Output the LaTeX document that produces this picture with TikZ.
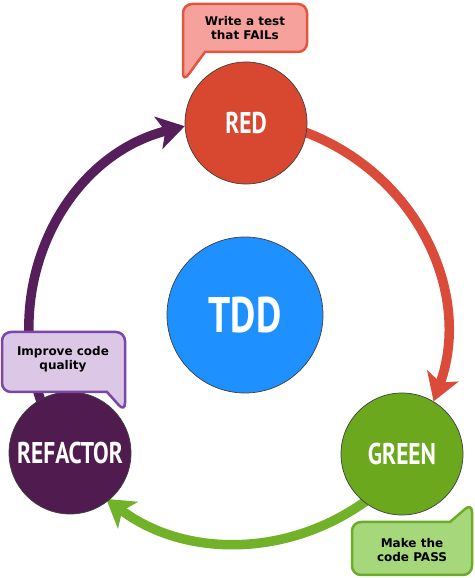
\documentclass[tikz,border=0pt]{standalone}
\usepackage{fontspec}
\usetikzlibrary{arrows.meta,backgrounds}

\newfontfamily\stagefont{PT Sans}[FakeStretch=0.78]
\newfontfamily\notefont{DejaVu Sans}

\definecolor{redstage}{HTML}{D8472F}
\definecolor{greenstage}{HTML}{6BA81E}
\definecolor{purplestage}{HTML}{501C50}
\definecolor{bluestage}{HTML}{1E90FF}
\definecolor{redarrow}{HTML}{DA4B39}
\definecolor{greenarrow}{HTML}{72B229}
\definecolor{purplearrow}{HTML}{561E5A}
\definecolor{rednotefill}{HTML}{F6A19B}
\definecolor{rednoteline}{HTML}{E2553F}
\definecolor{purplenotefill}{HTML}{DCC7E6}
\definecolor{purplenoteline}{HTML}{7A47A8}
\definecolor{greennotefill}{HTML}{A7D77B}
\definecolor{greennoteline}{HTML}{6CAC2B}

\begin{document}
\begin{tikzpicture}[x=1pt, y=1pt,
    stage/.style={circle, draw=black!75, line width=0.7pt, minimum size=122pt,
      inner sep=0pt, text=white, font=\stagefont\bfseries\fontsize{30}{30}\selectfont},
    loop arrow/.style={line width=9.5pt, shorten <=-6pt,
      -{Stealth[length=27pt, width=33pt, inset=7pt]}},
    bubble/.style={line width=2.5pt, rounded corners=9pt},
    bubble text/.style={align=center, font=\notefont\bfseries\fontsize{12}{14.5}\selectfont}]
  \useasboundingbox (0,0) rectangle (474,578);

  % Stages of the cycle
  \node[stage, fill=redstage] (red) at (246,455) {RED};
  \node[stage, fill=greenstage] (green) at (402,124) {GREEN};
  \node[stage, fill=purplestage] (refactor) at (70,125) {REFACTOR};
  \node[stage, fill=bluestage, minimum size=156pt,
    font=\stagefont\bfseries\fontsize{50}{50}\selectfont] (tdd) at (245,263) {TDD};

  % Arrows between the stages
  \begin{scope}[on background layer]
    \draw[loop arrow, redarrow]
      (red.-9.4) to[out=-19.7, in=70.1, looseness=1.0] (green.59.8);
    \draw[loop arrow, greenarrow, shorten >=-3pt]
      (green.-128.6) to[out=-143.4, in=-36.9, looseness=0.945] (refactor.-51.7);
    \draw[loop arrow, purplearrow]
      (refactor.119.9) to[out=109.6, in=194.1, looseness=1.02] (red.183.8);
  \end{scope}

  % Speech bubbles
  \draw[bubble, draw=rednoteline, fill=rednotefill]
    (245,574) -- (183,574) -- (183,496) [sharp corners] -- (205,526)
    [rounded corners=9pt] -- (307,526) -- (307,574) -- cycle;
  \node[bubble text] (failnote) at (245,550) {Write a test\\that FAILs};

  \draw[bubble, draw=purplenoteline, fill=purplenotefill]
    (63,246) -- (125,246) -- (125,166) [sharp corners] -- (107,186)
    [rounded corners=9pt] -- (2,186) -- (2,246) -- cycle;
  \node[bubble text] (improvenote) at (63,219) {Improve code\\quality};

  \draw[bubble, draw=greennoteline, fill=greennotefill]
    (412,3) -- (472,3) -- (472,75) [sharp corners] -- (450,56)
    [rounded corners=9pt] -- (352,56) -- (352,3) -- cycle;
  \node[bubble text] (passnote) at (412,28) {Make the\\code PASS};
\end{tikzpicture}
\end{document}
